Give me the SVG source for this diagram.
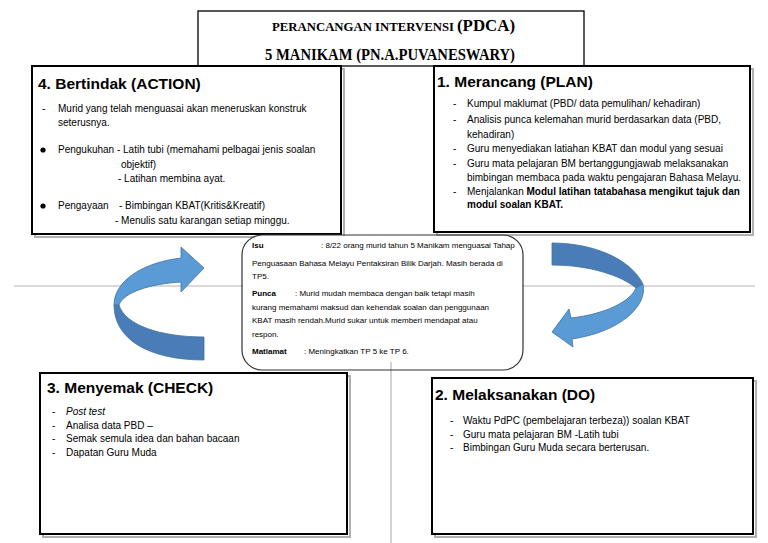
<svg xmlns="http://www.w3.org/2000/svg" width="768" height="543" viewBox="0 0 768 543">
<style>
.box{fill:#fff;stroke:#000;stroke-width:2}
.sh{fill:none;stroke:#b0b0b0;stroke-width:2}
.hd{font-family:"Liberation Sans",Arial,sans-serif;font-weight:bold;font-size:15.5px;fill:#000}
.tx{font-family:"Liberation Sans",Arial,sans-serif;font-size:10px;fill:#000}
.sm{font-family:"Liberation Sans",Arial,sans-serif;font-size:8px;fill:#000}
.ti{font-family:"Liberation Serif","Times New Roman",serif;font-weight:bold;fill:#000}
.b{font-weight:bold}
.guide{stroke:#b4b4b4;stroke-width:1.2}
</style>
<rect width="768" height="543" fill="#fff"/>
<g id="title">
<rect x="198" y="11" width="386" height="55" fill="#fff" stroke="#000" stroke-width="1.3"/>
<text class="ti" x="272" y="31" font-size="13" textLength="182" lengthAdjust="spacingAndGlyphs">PERANCANGAN INTERVENSI</text>
<text class="ti" x="457" y="31" font-size="17" textLength="58" lengthAdjust="spacingAndGlyphs">(PDCA)</text>
<text class="ti" x="265" y="60" font-size="16" textLength="250" lengthAdjust="spacingAndGlyphs">5 MANIKAM (PN.A.PUVANESWARY)</text>
</g>
<g id="action">
<rect class="sh" x="35" y="69" width="309" height="168"/>
<rect class="box" x="32" y="66" width="309" height="168"/>
<text class="hd" x="38" y="89">4. Bertindak (ACTION)</text>
<text class="tx" x="42" y="112">-</text>
<text class="tx" x="58" y="112">Murid yang telah menguasai akan meneruskan konstruk</text>
<text class="tx" x="58" y="126">seterusnya.</text>
<circle cx="43" cy="150" r="2.6" fill="#000"/>
<text class="tx" x="58" y="153">Pengukuhan - Latih tubi (memahami pelbagai jenis soalan</text>
<text class="tx" x="121" y="168">objektif)</text>
<text class="tx" x="118" y="182">- Latihan membina ayat.</text>
<circle cx="43" cy="206" r="2.6" fill="#000"/>
<text class="tx" x="58" y="209">Pengayaan</text>
<text class="tx" x="119" y="209">- Bimbingan KBAT(Kritis&amp;Kreatif)</text>
<text class="tx" x="115" y="224">-  Menulis satu karangan setiap minggu.</text>
</g>
<g id="plan">
<rect class="sh" x="437" y="69" width="316" height="166"/>
<rect class="box" x="434" y="66" width="316" height="166"/>
<text class="hd" x="437" y="87">1. Merancang (PLAN)</text>
<text class="tx" x="453" y="107">-</text>
<text class="tx" x="467" y="107">Kumpul maklumat (PBD/ data pemulihan/ kehadiran)</text>
<text class="tx" x="453" y="123">-</text>
<text class="tx" x="467" y="123">Analisis punca kelemahan murid berdasarkan data (PBD,</text>
<text class="tx" x="467" y="138">kehadiran)</text>
<text class="tx" x="453" y="152">-</text>
<text class="tx" x="467" y="152">Guru menyediakan latiahan KBAT dan modul yang sesuai</text>
<text class="tx" x="453" y="167">-</text>
<text class="tx" x="467" y="167">Guru mata pelajaran BM bertanggungjawab melaksanakan</text>
<text class="tx" x="467" y="181">bimbingan membaca pada waktu pengajaran Bahasa Melayu.</text>
<text class="tx" x="453" y="195">-</text>
<text class="tx" x="467" y="195">Menjalankan <tspan class="b">Modul latihan tatabahasa mengikut tajuk dan</tspan></text>
<text class="tx b" x="467" y="208">modul soalan KBAT.</text>
</g>
<g id="connectors">
<line class="guide" x1="14" y1="286" x2="755" y2="286"/>
<line class="guide" x1="391" y1="362" x2="391" y2="543"/>
</g>
<g id="center">
<rect x="242" y="235" width="281" height="135" rx="20" ry="20" fill="#fff" fill-opacity="0" stroke="#333" stroke-width="1.2"/>
<rect x="243" y="236" width="279" height="125" rx="19" ry="19" fill="#fff"/>
<text class="sm b" x="252" y="248">Isu</text>
<text class="sm" x="321" y="248">: 8/22 orang murid tahun 5 Manikam menguasai Tahap</text>
<text class="sm" x="252" y="266">Penguasaan Bahasa Melayu Pentaksiran Bilik Darjah. Masih berada di</text>
<text class="sm" x="252" y="279">TP5.</text>
<text class="sm b" x="252" y="296">Punca</text>
<text class="sm" x="295" y="296">: Murid mudah membaca dengan baik tetapi masih</text>
<text class="sm" x="252" y="310">kurang memahami maksud dan kehendak soalan dan penggunaan</text>
<text class="sm" x="252" y="323">KBAT masih rendah.Murid sukar untuk memberi mendapat atau</text>
<text class="sm" x="252" y="337">respon.</text>
<text class="sm b" x="252" y="354">Matlamat</text>
<text class="sm" x="304" y="354">:  Meningkatkan TP 5 ke TP 6.</text>
</g>
<g id="check">
<rect class="sh" x="43" y="376" width="307" height="161"/>
<rect class="box" x="40" y="373" width="307" height="161"/>
<text class="hd" x="47" y="393">3. Menyemak (CHECK)</text>
<text class="tx" x="52" y="415">-</text>
<text class="tx" x="66" y="415" font-style="italic">Post test</text>
<text class="tx" x="52" y="429">-</text>
<text class="tx" x="66" y="429">Analisa data PBD –</text>
<text class="tx" x="52" y="442">-</text>
<text class="tx" x="66" y="442">Semak semula idea dan bahan bacaan</text>
<text class="tx" x="52" y="456">-</text>
<text class="tx" x="66" y="456">Dapatan Guru Muda</text>
</g>
<g id="do">
<rect class="sh" x="435" y="381" width="321" height="156"/>
<rect class="box" x="432" y="378" width="321" height="156"/>
<text class="hd" x="435" y="400">2. Melaksanakan (DO)</text>
<text class="tx" x="450" y="424">-</text>
<text class="tx" x="463" y="424">Waktu PdPC (pembelajaran terbeza)) soalan KBAT</text>
<text class="tx" x="450" y="438">-</text>
<text class="tx" x="463" y="438">Guru mata pelajaran BM -Latih tubi</text>
<text class="tx" x="450" y="451">-</text>
<text class="tx" x="463" y="451">Bimbingan Guru Muda secara berterusan.</text>
</g>
<g id="arrow-left">
<path d="M114,305 C114,340 150,360 204,360 L204,337 C160,337 125,325 119,305 Z" fill="#4A7DB8" stroke="#41719C" stroke-width="0.8"/>
<path d="M114,305 C114,280 145,262 181,258 L181,247 L204,268 L181,292 L181,282 C150,284 124,292 119,305 Z" fill="#5B9BD5" stroke="#41719C" stroke-width="0.8"/>
</g>
<g id="arrow-right">
<path d="M552,243 C592,243 630,258 643,284 L636,288 C622,276 590,265 552,265 Z" fill="#4A7DB8" stroke="#41719C" stroke-width="0.8"/>
<path d="M643,284 C648,306 620,332 572,339 L573,347 L552,332 L569,309 L571,318 C605,314 630,302 636,288 Z" fill="#5B9BD5" stroke="#41719C" stroke-width="0.8"/>
</g>
</svg>
